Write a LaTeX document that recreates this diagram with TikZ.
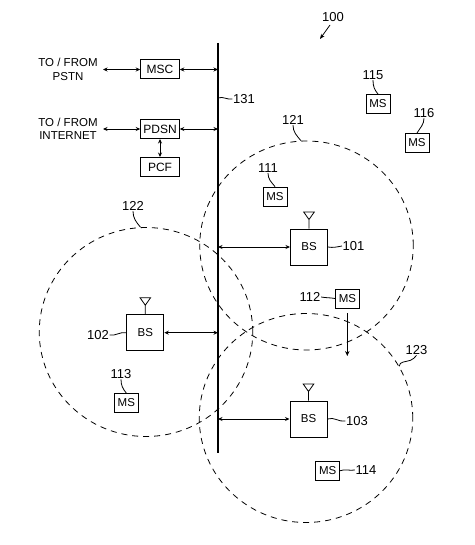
\documentclass[tikz,border=0pt]{standalone}
\usepackage{fontspec}
\setmainfont{Liberation Sans}
\usetikzlibrary{arrows.meta,shapes.geometric}
\tikzset{
  unitbox/.style={draw, line width=1pt, minimum width=38.5pt, minimum height=19pt, inner sep=0pt, font=\fontsize{12}{13.5}\selectfont},
  msbox/.style={draw, line width=0.9pt, minimum width=24pt, minimum height=19pt, inner sep=0pt, font=\fontsize{11.5}{13}\selectfont},
  bsbox/.style={draw, line width=1pt, minimum width=37pt, minimum height=36pt, inner sep=0pt, font=\fontsize{11.5}{13}\selectfont},
  cell/.style={draw, ellipse, dash pattern=on 6pt off 5pt, line width=0.8pt, inner sep=0pt, minimum width=213.5pt, minimum height=209pt},
  tag/.style={inner sep=0.5pt, font=\fontsize{13}{14}\selectfont},
  sidetext/.style={align=center, inner sep=0pt, font=\fontsize{11.5}{13.5}\selectfont},
  link/.style={{Stealth[length=4.5pt,width=4pt]}-{Stealth[length=4.5pt,width=4pt]}, line width=0.9pt},
  oneway/.style={-{Stealth[length=5pt,width=4.5pt]}, line width=0.9pt},
  leader/.style={line width=0.8pt}
}
\newcommand{\mastontop}[1]{\draw[line width=0.8pt] (#1.north) -- ++(0,-9) -- ++(-5.3,-7.5) -- ++(10.6,0) -- ++(-5.3,7.5);}
\begin{document}
\begin{tikzpicture}[x=1pt,y=-1pt]
\useasboundingbox (0,0) rectangle (474,545);
\coordinate (bustop) at (218,43);
\coordinate (busend) at (218,453);
\draw[line width=1.2pt] (bustop) -- (busend);
\node[cell] (cell121) at (306.5,245.5) {};
\node[cell] (cell122) at (146,332) {};
\node[cell] (cell123) at (306,418) {};
\node[sidetext] (pstn) at (68,69.5) {TO / FROM\\PSTN};
\node[sidetext] (inet) at (68,129) {TO / FROM\\INTERNET};
\node[unitbox] (msc) at (160,69.5) {MSC};
\node[unitbox] (pdsn) at (160,129) {PDSN};
\node[unitbox] (pcf) at (160,167) {PCF};
\coordinate (pstnend) at (103,69.5);
\coordinate (inetend) at (103,129);
\draw[link] (pstnend) -- (msc);
\draw[link] (inetend) -- (pdsn);
\draw[link] (msc) -- (msc -| bustop);
\draw[link] (pdsn) -- (pdsn -| bustop);
\draw[link] (pdsn) -- (pcf);
\node[bsbox] (bs101) at (309,247) {BS};
\node[bsbox] (bs102) at (145.3,332.7) {BS};
\node[bsbox] (bs103) at (308.5,419) {BS};
\mastontop{bs101}
\mastontop{bs102}
\mastontop{bs103}
\draw[link] (bs101) -- (bs101 -| bustop);
\draw[link] (bs102) -- (bs102 -| bustop);
\draw[link] (bs103) -- (bs103 -| bustop);
\node[msbox] (ms111) at (275,196.5) {MS};
\node[msbox] (ms112) at (347.5,298.5) {MS};
\node[msbox] (ms113) at (126.3,403) {MS};
\node[msbox] (ms114) at (327.7,470.7) {MS};
\node[msbox] (ms115) at (378,104) {MS};
\node[msbox] (ms116) at (417,143) {MS};
\coordinate (movetop) at (347.3,313);
\coordinate (moveend) at (347.3,356);
\draw[oneway] (movetop) -- (moveend);
\node[tag] (tag100) at (333,17) {100};
\coordinate (sys) at (320,39);
\draw[-{Stealth[length=5pt,width=4pt]}, line width=0.8pt] (tag100) ++(-3,8) -- (sys);
\node[tag] (tag131) at (244,99) {131};
\node[tag] (tag121) at (293,120) {121};
\node[tag] (tag122) at (133,206) {122};
\node[tag] (tag123) at (416.5,350) {123};
\node[tag] (tag101) at (353.5,246) {101};
\node[tag] (tag102) at (98,335) {102};
\node[tag] (tag103) at (357,421) {103};
\node[tag] (tag111) at (268,168) {111};
\node[tag] (tag112) at (310,297) {112};
\node[tag] (tag113) at (121,374) {113};
\node[tag] (tag114) at (366,470) {114};
\node[tag] (tag115) at (373,75) {115};
\node[tag] (tag116) at (424,113) {116};
\draw[leader] (tag131.west) to[out=190,in=20] (bustop |- 0,98);
\draw[leader] (tag121.south) to[out=-90,in=130] (cell121.93);
\draw[leader] (tag122.south) to[out=-90,in=130] (cell122.93);
\draw[leader] (tag123.south) to[out=-130,in=20] ++(-6,5) to[out=200,in=90] (cell123.29);
\draw[leader] (tag101.west) to[out=190,in=-10] (bs101.east);
\draw[leader] (tag102.east) to[out=-10,in=170] (bs102.west);
\draw[leader] (tag103.west) to[out=190,in=20] (bs103.east);
\draw[leader] (tag111.south) to[out=-90,in=130] (ms111.north);
\draw[leader] (tag112.east) to[out=-10,in=170] (ms112.west);
\draw[leader] (tag113.south) to[out=-90,in=130] (ms113.north);
\draw[leader] (tag114.west) to[out=190,in=20] (ms114.east);
\draw[leader] (tag115.south) to[out=-90,in=130] (ms115.north);
\draw[leader] (tag116.south) to[out=-90,in=60] (ms116.north);
\end{tikzpicture}
\end{document}
